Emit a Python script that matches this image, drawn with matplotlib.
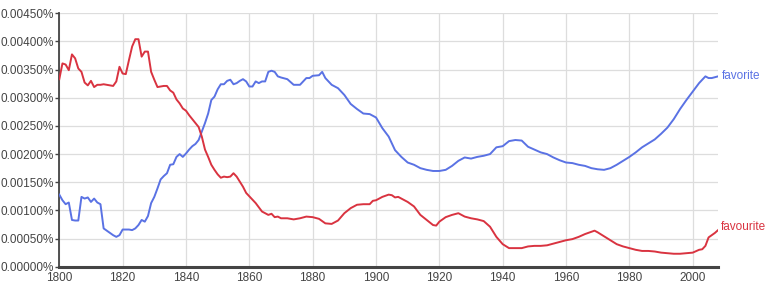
import matplotlib
matplotlib.use("Agg")
import matplotlib.pyplot as plt
from matplotlib.ticker import FuncFormatter

# values in percent
fav_years = [1800,1801,1802,1803,1804,1805,1806,1807,1808,1809,1810,1811,1812,1813,1814,1815,1816,1817,1818,1819,
             1820,1821,1822,1823,1824,1825,1826,1827,1828,1829,1830,1831,1832,1833,1834,1835,1836,1837,1838,1839,
             1840,1841,1842,1843,1844,1845,1846,1847,1848,1849,1850,1851,1852,1853,1854,1855,1856,1857,1858,1859,
             1860,1861,1862,1863,1864,1865,1866,1867,1868,1869,1870,1872,1874,1876,1878,1879,1880,1882,1883,1884,
             1886,1888,1890,1892,1894,1896,1898,1900,1902,1904,1906,1908,1910,1912,1914,1916,1918,1920,1922,1924,
             1926,1928,1930,1932,1934,1936,1938,1940,1942,1944,1946,1948,1950,1952,1954,1956,1958,1960,1962,1964,
             1966,1968,1970,1972,1974,1976,1978,1980,1982,1984,1986,1988,1990,1992,1994,1996,1998,2000,2002,2004,
             2005,2006,2008]
favorite = [0.00128,0.00118,0.00111,0.00114,0.00083,0.00082,0.00082,0.00124,0.00121,0.00123,0.00115,0.00121,0.00114,0.00111,0.00068,0.00064,0.00060,0.00056,0.00053,0.00056,
            0.00066,0.00066,0.00066,0.00065,0.00068,0.00074,0.00083,0.00080,0.00090,0.00113,0.00124,0.00139,0.00155,0.00161,0.00166,0.00181,0.00182,0.00195,0.00200,0.00195,
            0.00201,0.00208,0.00214,0.00218,0.00225,0.00240,0.00255,0.00272,0.00296,0.00302,0.00315,0.00324,0.00324,0.00330,0.00332,0.00324,0.00326,0.00330,0.00333,0.00329,
            0.00320,0.00320,0.00329,0.00326,0.00329,0.00329,0.00346,0.00348,0.00346,0.00338,0.00336,0.00333,0.00323,0.00323,0.00335,0.00335,0.00339,0.00340,0.00346,0.00335,
            0.00323,0.00317,0.00305,0.00289,0.00280,0.00272,0.00271,0.00265,0.00246,0.00231,0.00207,0.00195,0.00185,0.00181,0.00175,0.00172,0.00170,0.00170,0.00172,0.00179,
            0.00188,0.00194,0.00192,0.00195,0.00197,0.00200,0.00212,0.00214,0.00223,0.00225,0.00224,0.00213,0.00208,0.00203,0.00200,0.00194,0.00189,0.00185,0.00184,0.00181,
            0.00179,0.00175,0.00173,0.00172,0.00175,0.00181,0.00188,0.00195,0.00203,0.00212,0.00219,0.00226,0.00236,0.00247,0.00262,0.00280,0.00296,0.00311,0.00326,0.00338,
            0.00335,0.00335,0.00338]

fou_years = [1800,1801,1802,1803,1804,1805,1806,1807,1808,1809,1810,1811,1812,1813,1814,1815,1816,1817,1818,1819,
             1820,1821,1822,1823,1824,1825,1826,1827,1828,1829,1830,1831,1832,1833,1834,1835,1836,1837,1838,1839,
             1840,1841,1842,1843,1844,1845,1846,1847,1848,1849,1850,1851,1852,1853,1854,1855,1856,1857,1858,1859,
             1860,1862,1864,1866,1867,1868,1869,1870,1872,1874,1876,1878,1880,1882,1884,1886,1888,1890,1892,1894,
             1896,1898,1899,1900,1902,1904,1905,1906,1907,1908,1910,1912,1914,1916,1918,1919,1920,1922,1924,1926,
             1928,1930,1932,1934,1936,1938,1940,1942,1944,1946,1948,1950,1952,1954,1956,1958,1960,1962,1964,1966,
             1968,1969,1970,1972,1974,1976,1978,1980,1982,1984,1986,1988,1990,1992,1994,1996,1998,2000,2002,2003,
             2004,2005,2006,2007,2008]
favourite = [0.00333,0.00361,0.00359,0.00349,0.00377,0.00370,0.00352,0.00346,0.00327,0.00322,0.00330,0.00319,0.00323,0.00323,0.00324,0.00323,0.00322,0.00321,0.00329,0.00355,
             0.00343,0.00342,0.00367,0.00391,0.00404,0.00404,0.00373,0.00382,0.00382,0.00346,0.00332,0.00319,0.00320,0.00321,0.00321,0.00313,0.00309,0.00297,0.00290,0.00281,
             0.00277,0.00269,0.00262,0.00255,0.00248,0.00231,0.00208,0.00195,0.00181,0.00172,0.00164,0.00158,0.00160,0.00159,0.00160,0.00166,0.00160,0.00151,0.00142,0.00131,
             0.00125,0.00113,0.00098,0.00092,0.00094,0.00088,0.00089,0.00086,0.00086,0.00084,0.00086,0.00089,0.00088,0.00085,0.00077,0.00076,0.00082,0.00095,0.00104,0.00110,
             0.00111,0.00111,0.00117,0.00118,0.00124,0.00128,0.00127,0.00123,0.00124,0.00121,0.00115,0.00107,0.00092,0.00083,0.00074,0.00073,0.00080,0.00088,0.00092,0.00095,
             0.00089,0.00086,0.00084,0.00081,0.00071,0.00053,0.00040,0.00033,0.00033,0.00033,0.00036,0.00037,0.00037,0.00038,0.00041,0.00044,0.00047,0.00049,0.00053,0.00058,
             0.00062,0.00064,0.00061,0.00054,0.00047,0.00040,0.00036,0.00033,0.00030,0.00028,0.00028,0.00027,0.00025,0.00024,0.00023,0.00023,0.00024,0.00025,0.00030,0.00031,
             0.00037,0.00052,0.00056,0.00060,0.00065]

x_ticks = [1800, 1820, 1840, 1860, 1880, 1900, 1920, 1940, 1960, 1980, 2000]
y_ticks = [0.0, 0.0005, 0.0010, 0.0015, 0.0020, 0.0025, 0.0030, 0.0035, 0.0040, 0.0045]

BLUE = '#5a72e4'
RED = '#d93340'

plt.rcParams['font.family'] = ['Liberation Sans', 'DejaVu Sans']
fig = plt.figure(figsize=(7.68, 2.87), dpi=100)
ax = fig.add_axes([0.0772, 0.0707, 0.935 - 0.0772, 0.9537 - 0.0707])

ax.plot(fav_years, favorite, color=BLUE, lw=1.4, zorder=3, solid_joinstyle='round')
ax.plot(fou_years, favourite, color=RED, lw=1.4, zorder=3, solid_joinstyle='round')

ax.set_xlim(1800, 2008)
ax.set_ylim(0, 0.0045)
ax.set_xticks(x_ticks)
ax.set_yticks(y_ticks)
ax.yaxis.set_major_formatter(FuncFormatter(lambda v, p: f"{v:.5f}%"))
ax.grid(True, color='#dddddd', lw=0.9, zorder=0)
ax.set_axisbelow(True)

for s in ['top', 'right']:
    ax.spines[s].set_visible(False)
ax.spines['left'].set_color('#444444')
ax.spines['left'].set_linewidth(1.3)
ax.spines['bottom'].set_color('#444444')
ax.spines['bottom'].set_linewidth(2.2)
ax.tick_params(axis='y', length=3, width=1, color='#444444', labelsize=8.5, labelcolor='#444444', pad=1)
ax.tick_params(axis='x', length=0, labelsize=8.5, labelcolor='#444444', pad=4)

ax.annotate('favorite', xy=(fav_years[-1], favorite[-1]), xytext=(3, 0), textcoords='offset points',
            color=BLUE, fontsize=8.5, va='center', ha='left', annotation_clip=False)
ax.annotate('favourite', xy=(fou_years[-1], favourite[-1]), xytext=(2, 2), textcoords='offset points',
            color=RED, fontsize=8.5, va='center', ha='left', annotation_clip=False)

fig.savefig('out.png', dpi=100)
